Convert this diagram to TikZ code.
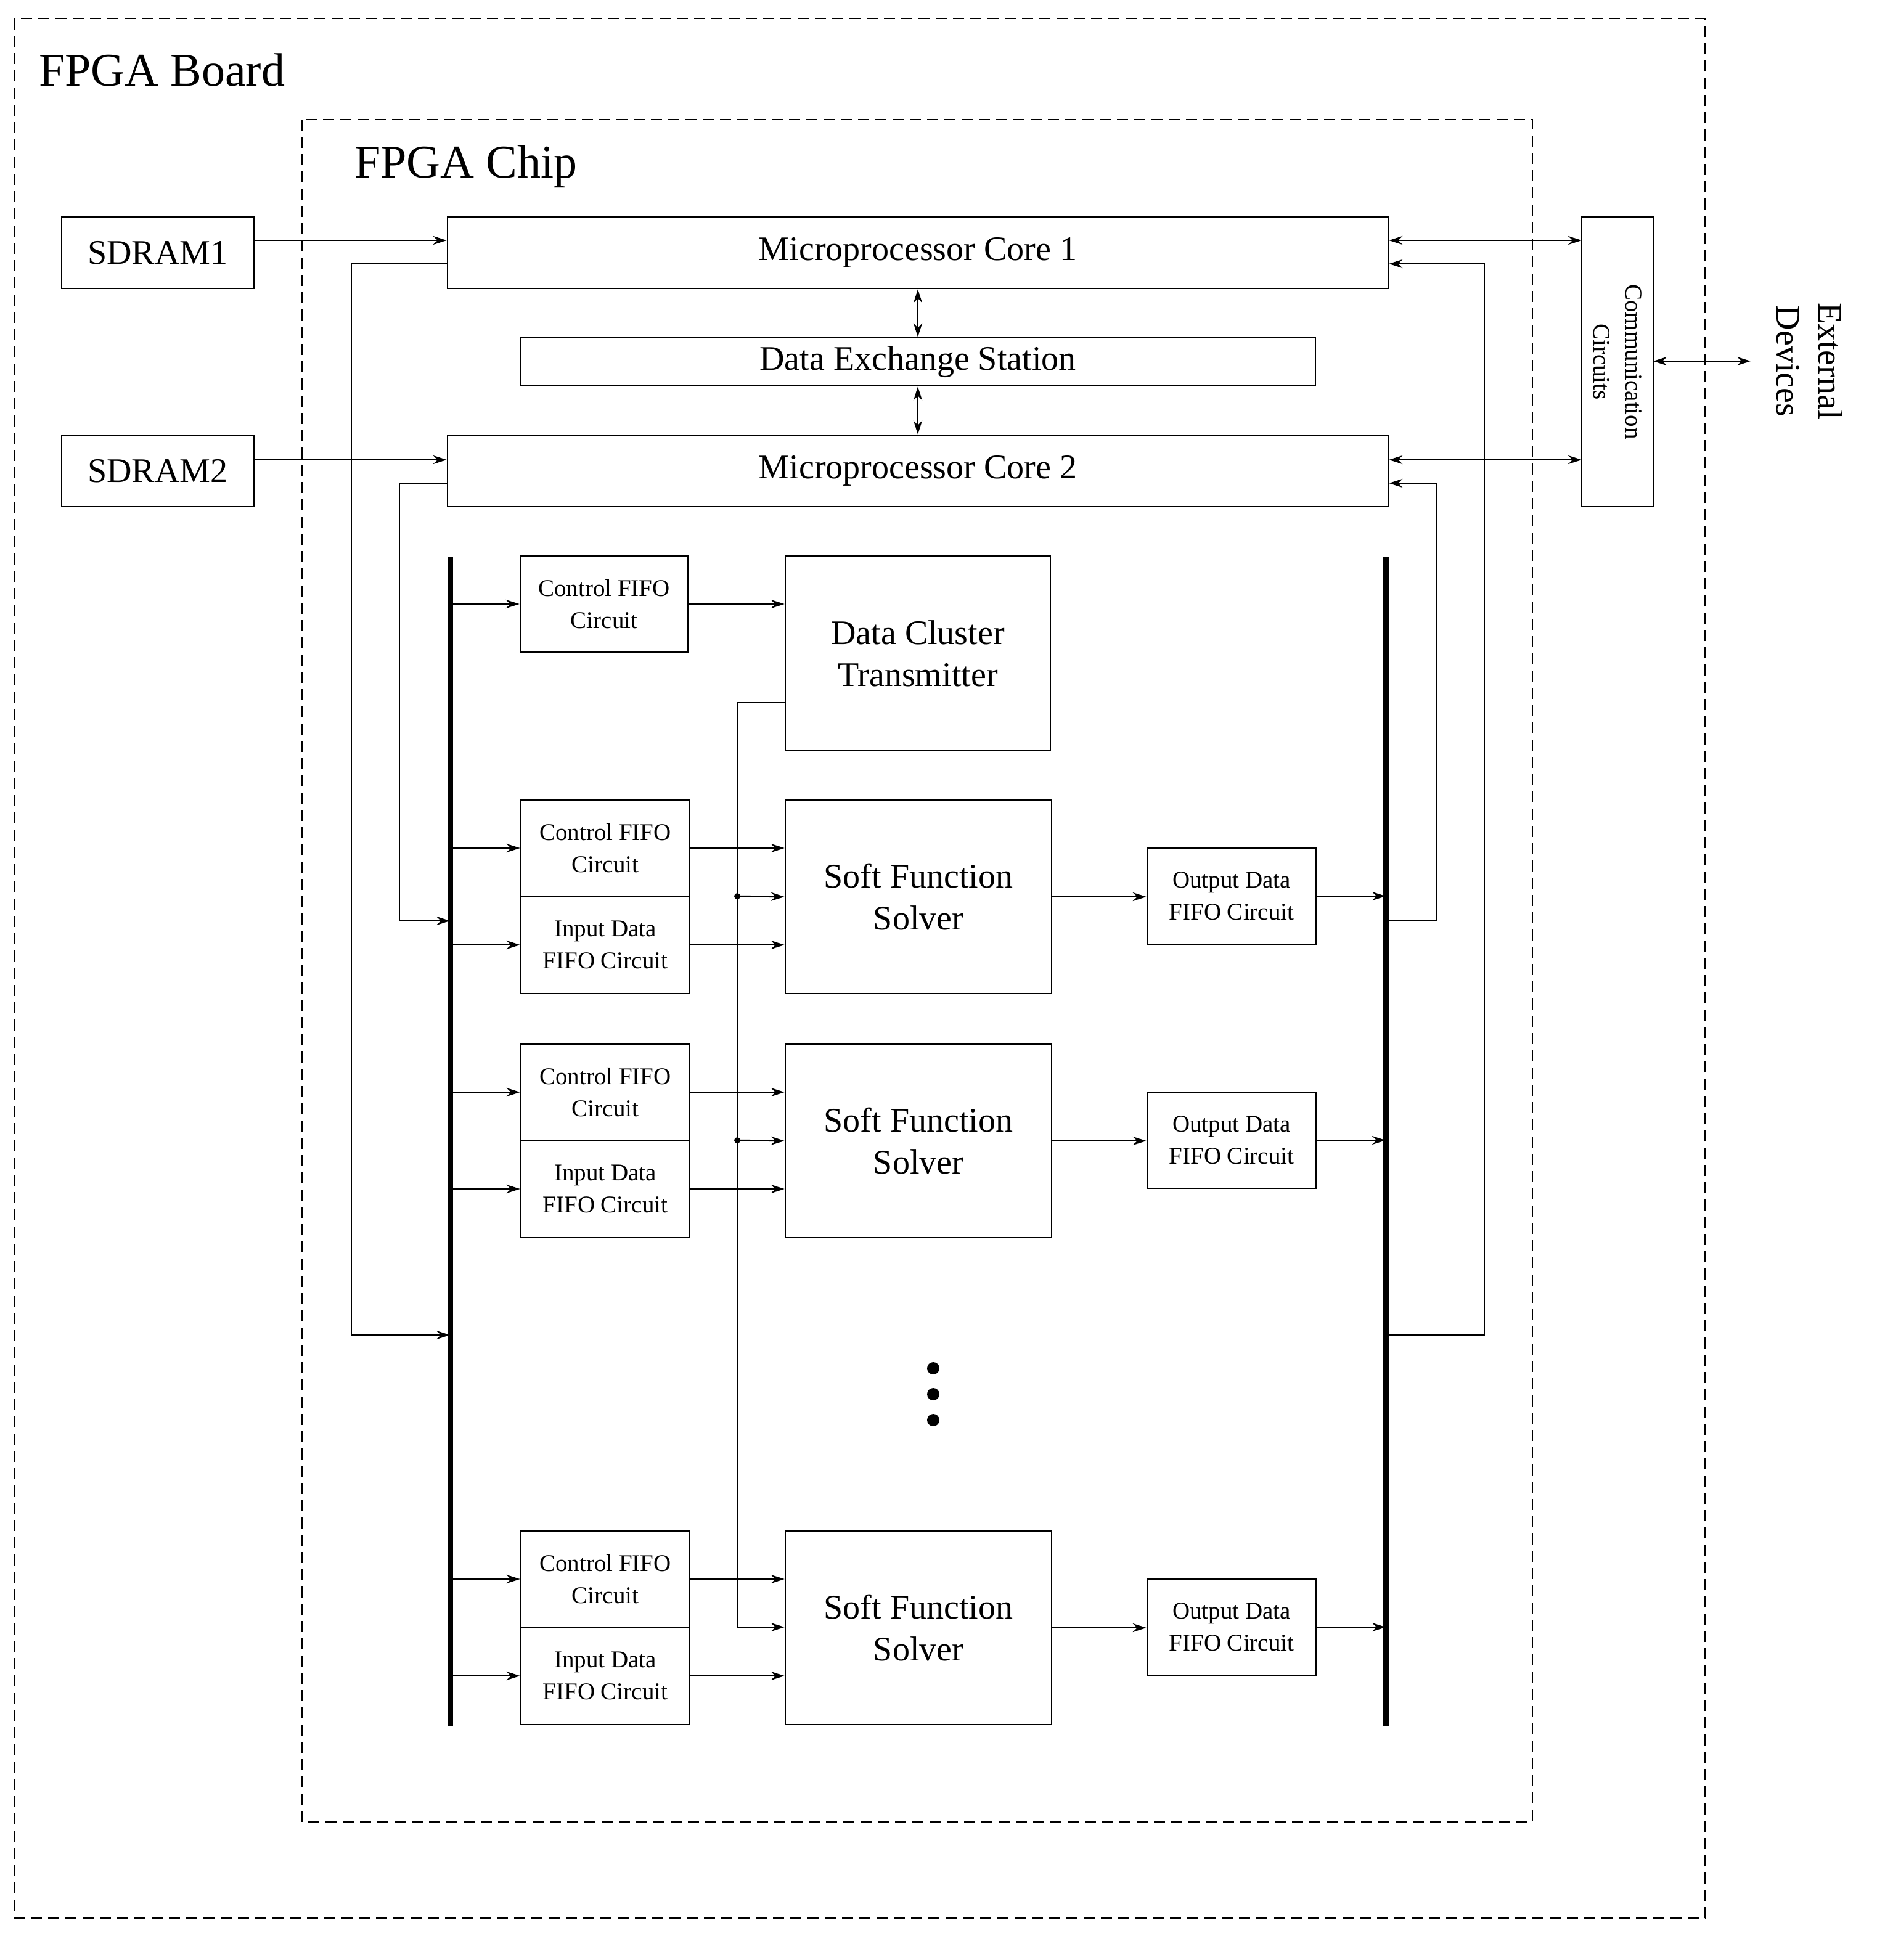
\documentclass[tikz,border=0pt]{standalone}
\usepackage{fontspec}
\setmainfont{Liberation Serif}
\usetikzlibrary{arrows.meta}
\begin{document}
\begin{tikzpicture}[x=1pt,y=-1pt,
  box/.style={draw,line width=1.3pt,inner sep=0pt,align=center},
  big/.style={font=\fontsize{31}{36}\selectfont},
  mid/.style={font=\fontsize{28}{34}\selectfont},
  sml/.style={font=\fontsize{19.5}{26}\selectfont},
  ar/.style={line width=1.3pt,-{Stealth[length=11pt,width=7pt]}},
  dar/.style={line width=1.3pt,{Stealth[length=11pt,width=7pt]}-{Stealth[length=11pt,width=7pt]}},
  ln/.style={line width=1.3pt},
  dsh/.style={line width=1.3pt,dash pattern=on 9pt off 5pt}]
\useasboundingbox (0,0) rectangle (1535.5,1590);
\draw[dsh] (12,15) rectangle (1383,1556);
\node[anchor=west,font=\fontsize{38}{44}\selectfont] (tb) at (28,57) {FPGA Board};
\draw[dsh] (245,97) rectangle (1243,1478);
\node[anchor=west,font=\fontsize{38}{44}\selectfont] (tc) at (284,135) {FPGA Chip};

\node[box,mid,minimum width=156,minimum height=58] (s1) at (128,205) {SDRAM1};
\node[box,mid,minimum width=156,minimum height=58] (s2) at (128,382) {SDRAM2};
\node[box,mid,minimum width=763,minimum height=58] (m1) at (744.5,205) {Microprocessor Core 1};
\node[box,mid,minimum width=645,minimum height=39] (des) at (744.5,293.5) {Data Exchange Station};
\node[box,mid,minimum width=763,minimum height=58] (m2) at (744.5,382) {Microprocessor Core 2};
\node[box,sml,minimum width=235,minimum height=58,rotate=-90] (cc) at (1312,293.5) {Communication\\Circuits};
\node[mid,align=center,rotate=-90] (ext) at (1468,293) {External\\Devices};
\coordinate (ccl) at (1283,293);
\coordinate (ccr) at (1341,293);

\coordinate (lb) at (365,452); \coordinate (lbe) at (365,1400);
\coordinate (rb) at (1124,452); \coordinate (rbe) at (1124,1400);
\draw[line width=4.5pt] (lb) -- (lbe);
\draw[line width=4.5pt] (rb) -- (rbe);

\draw[ar] (s1.east |- 0,195) -- (m1.west |- 0,195);
\draw[ar] (s2.east |- 0,373) -- (m2.west |- 0,373);
\draw[dar] (m1.east |- 0,195) -- (ccl |- 0,195);
\draw[dar] (m2.east |- 0,373) -- (ccl |- 0,373);
\draw[dar] (ccr) -- (1420,293);
\draw[dar] (m1.south) -- (des.north);
\draw[dar] (des.south) -- (m2.north);
\draw[ar] (m1.west |- 0,214) -- (285,214) -- (285,1083) -- (lb |- 0,1083);
\draw[ar] (m2.west |- 0,392) -- (324,392) -- (324,747) -- (lb |- 0,747);
\draw[ar] (rb |- 0,1083) -- (1204,1083) -- (1204,214) -- (m1.east |- 0,214);
\draw[ar] (rb |- 0,747) -- (1165,747) -- (1165,392) -- (m2.east |- 0,392);

\node[box,sml,minimum width=136,minimum height=78] (cf0) at (490,490) {Control FIFO\\Circuit};
\node[box,mid,minimum width=215,minimum height=158] (dct) at (744.5,530) {Data Cluster\\Transmitter};
\draw[ar] (lb |- cf0.west) -- (cf0.west);
\draw[ar] (cf0.east) -- (dct.west |- cf0.east);

\foreach \i/\y in {1/649,2/847,3/1242}{
  \node[box,sml,minimum width=137,minimum height=78] (cf\i) at (491,\y+39) {Control FIFO\\Circuit};
  \node[box,sml,minimum width=137,minimum height=79] (id\i) at (491,\y+117.5) {Input Data\\FIFO Circuit};
  \node[box,mid,minimum width=216,minimum height=157] (sv\i) at (745,\y+78.5) {Soft Function\\Solver};
  \node[box,sml,minimum width=137,minimum height=78] (od\i) at (999,\y+78) {Output Data\\FIFO Circuit};
  \draw[ar] (lb |- cf\i.west) -- (cf\i.west);
  \draw[ar] (lb |- id\i.west) -- (id\i.west);
  \draw[ar] (cf\i.east) -- (sv\i.west |- cf\i.east);
  \draw[ar] (id\i.east) -- (sv\i.west |- id\i.east);
  \draw[ar] (sv\i.east) -- (od\i.west |- sv\i.east);
  \draw[ar] (od\i.east) -- (rb |- od\i.east);
}
\draw[ar] (dct.west |- 0,570) -- (598,570) -- (598,1320) -- (sv3.west |- 0,1320);
\fill (598,727) circle (2.5pt) (598,925) circle (2.5pt);
\draw[ar] (598,727) -- (sv1.west);
\draw[ar] (598,925) -- (sv2.west);
\fill (757,1110) circle (5pt) (757,1131) circle (5pt) (757,1152) circle (5pt);
\end{tikzpicture}
\end{document}
